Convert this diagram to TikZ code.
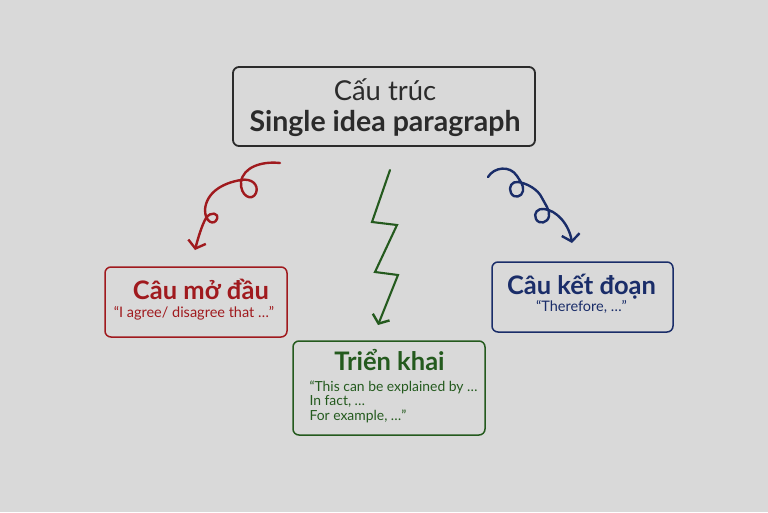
\documentclass[tikz,border=0pt]{standalone}
\usepackage{fontspec}
\setmainfont{Lato}
\usetikzlibrary{arrows.meta}
\definecolor{bg}{HTML}{D9D9D9}
\definecolor{ink}{HTML}{2B2B2B}
\definecolor{cred}{HTML}{A01A1E}
\definecolor{cgreen}{HTML}{245A1E}
\definecolor{cblue}{HTML}{1A2D69}
\tikzset{
  box/.style={draw, rounded corners=6pt, line width=1.5pt},
  toptxt/.style={text=ink, font=\fontsize{27.4}{30}\selectfont, anchor=base},
  ttl/.style={font=\bfseries\fontsize{25.5}{27}\selectfont, anchor=base},
  sub/.style={font=\fontsize{14.5}{15}\selectfont, anchor=base},
  swirl/.style={line width=2.4pt, line cap=round, line join=round, -{Straight Barb[length=7pt,width=18pt,line width=2.4pt]}},
}
\begin{document}
\begin{tikzpicture}[x=1pt,y=-1pt]
\useasboundingbox[fill=bg] (0,0) rectangle (768,512);
% boxes
\node[box, draw=ink, line width=1.8pt, minimum width=302pt, minimum height=79pt] (top) at (384,106.5) {};
\node[box, draw=cred, minimum width=182pt, minimum height=70pt] (left) at (196,302) {};
\node[box, draw=cgreen, minimum width=192pt, minimum height=94pt] (mid) at (389,388) {};
\node[box, draw=cblue, minimum width=181pt, minimum height=70pt] (right) at (582.5,297) {};
% texts
\node[toptxt] (t1) at (385,100) {Cấu trúc};
\node[toptxt, font=\bfseries\fontsize{28.5}{30}\selectfont] (t2) at (385,131) {Single idea paragraph};
\node[ttl, text=cred] (l1) at (201,299.5) {Câu mở đầu};
\node[sub, text=cred] (l2) at (194,317) {“I agree/ disagree that …”};
\node[ttl, text=cgreen] (m1) at (389.5,370) {Triển khai};
\node[sub, text=cgreen, anchor=base west, font=\fontsize{13.9}{15}\selectfont] (m2) at (306,391) {“This can be explained by …};
\node[sub, text=cgreen, anchor=base west, font=\fontsize{13.9}{15}\selectfont] (m3) at (306,405.5) {In fact, …};
\node[sub, text=cgreen, anchor=base west, font=\fontsize{13.9}{15}\selectfont] (m4) at (306,420) {For example, …”};
\node[ttl, text=cblue] (r1) at (581.5,294) {Câu kết đoạn};
\node[sub, text=cblue] (r2) at (581.5,311) {“Therefore, …”};
% arrows
\coordinate (rs) at (280,163);
\coordinate (re) at (195,250);
\draw[swirl, cred] (rs) .. controls (262,161) and (243,167) .. (241,182)
  .. controls (240,196) and (252,202) .. (256,193)
  .. controls (259,185) and (252,178) .. (241,180)
  .. controls (222,183) and (206,193) .. (205,210)
  .. controls (205,222) and (214,226) .. (217,219)
  .. controls (219,213) and (211,211) .. (206,218)
  .. controls (202,225) and (198,238) .. (re);
\coordinate (gs) at (390,170);
\coordinate (ge) at (378,325);
\draw[swirl, cgreen, line width=2.1pt, line join=miter] (gs) -- (372,222) -- (397,225) -- (375,272) -- (398,275) -- (ge);
\coordinate (bs) at (488,177);
\coordinate (be) at (572,243);
\draw[swirl, cblue] (bs) .. controls (494,167) and (510,165) .. (517,176)
  .. controls (520,181) and (524,185) .. (523,191)
  .. controls (522,197) and (514,199) .. (511,193)
  .. controls (508,187) and (512,181) .. (518,182)
  .. controls (526,183) and (538,189) .. (542,198)
  .. controls (545,204) and (550,210) .. (549,216)
  .. controls (548,223) and (539,225) .. (536,219)
  .. controls (533,213) and (538,208) .. (544,209)
  .. controls (556,210) and (569,224) .. (be);
\end{tikzpicture}
\end{document}
